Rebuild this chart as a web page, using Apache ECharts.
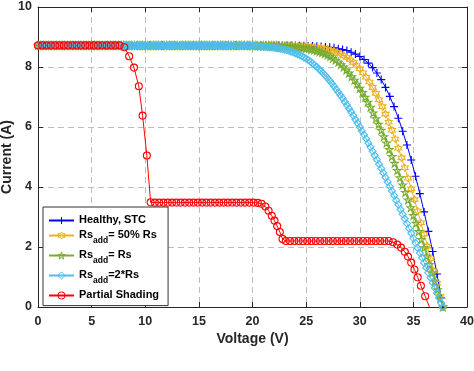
<!DOCTYPE html>
<html><head><meta charset="utf-8">
<script src="https://cdn.jsdelivr.net/npm/echarts@6/dist/echarts.min.js"></script>
<style>html,body{margin:0;padding:0;background:#fff}#c{width:474px;height:371px}</style>
</head><body><div id="c"></div>
<script>
const seriesNames = ['Healthy, STC', 'Rs_add= 50% Rs', 'Rs_add= Rs', 'Rs_add=2*Rs', 'Partial Shading'];
const xAxisTitle = 'Voltage (V)';
const yAxisTitle = 'Current (A)';

// [voltage (V), current (A)]
const healthy = [
[0,8.72],[0.4,8.72],[0.8,8.72],[1.2,8.72],[1.6,8.72],[2,8.72],[2.4,8.72],[2.8,8.72],[3.2,8.72],[3.6,8.72],
[4,8.72],[4.4,8.72],[4.8,8.72],[5.2,8.72],[5.6,8.72],[6,8.72],[6.4,8.72],[6.8,8.72],[7.2,8.72],[7.6,8.72],
[8,8.72],[8.4,8.72],[8.8,8.72],[9.2,8.72],[9.6,8.72],[10,8.72],[10.4,8.72],[10.8,8.72],[11.2,8.72],[11.6,8.72],
[12,8.72],[12.4,8.72],[12.8,8.72],[13.2,8.72],[13.6,8.72],[14,8.72],[14.4,8.72],[14.8,8.72],[15.2,8.72],[15.6,8.72],
[16,8.72],[16.4,8.72],[16.8,8.72],[17.2,8.72],[17.6,8.72],[18,8.72],[18.4,8.72],[18.8,8.72],[19.2,8.72],[19.6,8.72],
[20,8.72],[20.4,8.72],[20.8,8.72],[21.2,8.72],[21.6,8.72],[22,8.72],[22.4,8.72],[22.8,8.72],[23.2,8.72],[23.6,8.72],
[24,8.72],[24.4,8.71],[24.8,8.71],[25.2,8.70],[25.6,8.70],[26,8.69],[26.4,8.68],[26.8,8.67],[27.2,8.66],[27.6,8.64],
[28,8.61],[28.4,8.58],[28.8,8.55],[29.2,8.49],[29.6,8.43],[30,8.35],[30.4,8.25],[30.8,8.13],[31.2,7.98],[31.6,7.80],
[32,7.58],[32.4,7.32],[32.8,7.02],[33.2,6.68],[33.6,6.29],[34,5.86],[34.4,5.40],[34.8,4.90],[35.2,4.36],[35.6,3.78],
[36,3.17],[36.4,2.52],[36.8,1.85],[37.2,1.10],[37.6,0.30],[37.75,0]
];
const rsHalf = [
[0,8.72],[0.3,8.72],[0.6,8.72],[0.9,8.72],[1.2,8.72],[1.5,8.72],[1.8,8.72],[2.1,8.72],[2.4,8.72],[2.7,8.72],
[3,8.72],[3.3,8.72],[3.6,8.72],[3.9,8.72],[4.2,8.72],[4.5,8.72],[4.8,8.72],[5.1,8.72],[5.4,8.72],[5.7,8.72],
[6,8.72],[6.3,8.72],[6.6,8.72],[6.9,8.72],[7.2,8.72],[7.5,8.72],[7.8,8.72],[8.1,8.72],[8.4,8.72],[8.7,8.72],
[9,8.72],[9.3,8.72],[9.6,8.72],[9.9,8.72],[10.2,8.72],[10.5,8.72],[10.8,8.72],[11.1,8.72],[11.4,8.72],[11.7,8.72],
[12,8.72],[12.3,8.72],[12.6,8.72],[12.9,8.72],[13.2,8.72],[13.5,8.72],[13.8,8.72],[14.1,8.72],[14.4,8.72],[14.7,8.72],
[15,8.72],[15.3,8.72],[15.6,8.72],[15.9,8.72],[16.2,8.72],[16.5,8.72],[16.8,8.72],[17.1,8.72],[17.4,8.72],[17.7,8.72],
[18,8.72],[18.3,8.72],[18.6,8.72],[18.9,8.72],[19.2,8.72],[19.5,8.72],[19.8,8.72],[20.1,8.72],[20.4,8.72],[20.7,8.72],
[21,8.72],[21.3,8.72],[21.6,8.72],[21.9,8.72],[22.2,8.72],[22.5,8.71],[22.8,8.71],[23.1,8.71],[23.4,8.71],[23.7,8.70],
[24,8.70],[24.3,8.70],[24.6,8.69],[24.9,8.69],[25.2,8.68],[25.5,8.67],[25.8,8.66],[26.1,8.65],[26.4,8.63],[26.7,8.61],
[27,8.59],[27.3,8.56],[27.6,8.53],[27.9,8.49],[28.2,8.44],[28.5,8.38],[28.8,8.32],[29.1,8.24],[29.4,8.15],[29.7,8.05],
[30,7.94],[30.3,7.81],[30.6,7.66],[30.9,7.50],[31.2,7.32],[31.5,7.12],[31.8,6.91],[32.1,6.68],[32.4,6.43],[32.7,6.16],
[33,5.89],[33.3,5.60],[33.6,5.29],[33.9,4.97],[34.2,4.64],[34.5,4.29],[34.8,3.94],[35.1,3.58],[35.4,3.20],[35.7,2.81],
[36,2.43],[36.3,2.03],[36.6,1.61],[36.9,1.20],[37.2,0.79],[37.5,0.36],[37.75,0]
];
const rsOne = [
[0,8.72],[0.25,8.72],[0.5,8.72],[0.75,8.72],[1,8.72],[1.25,8.72],[1.5,8.72],[1.75,8.72],[2,8.72],[2.25,8.72],
[2.5,8.72],[2.75,8.72],[3,8.72],[3.25,8.72],[3.5,8.72],[3.75,8.72],[4,8.72],[4.25,8.72],[4.5,8.72],[4.75,8.72],
[5,8.72],[5.25,8.72],[5.5,8.72],[5.75,8.72],[6,8.72],[6.25,8.72],[6.5,8.72],[6.75,8.72],[7,8.72],[7.25,8.72],
[7.5,8.72],[7.75,8.72],[8,8.72],[8.25,8.72],[8.5,8.72],[8.75,8.72],[9,8.72],[9.25,8.72],[9.5,8.72],[9.75,8.72],
[10,8.72],[10.25,8.72],[10.5,8.72],[10.75,8.72],[11,8.72],[11.25,8.72],[11.5,8.72],[11.75,8.72],[12,8.72],[12.25,8.72],
[12.5,8.72],[12.75,8.72],[13,8.72],[13.25,8.72],[13.5,8.72],[13.75,8.72],[14,8.72],[14.25,8.72],[14.5,8.72],[14.75,8.72],
[15,8.72],[15.25,8.72],[15.5,8.72],[15.75,8.72],[16,8.72],[16.25,8.72],[16.5,8.72],[16.75,8.72],[17,8.72],[17.25,8.72],
[17.5,8.72],[17.75,8.72],[18,8.72],[18.25,8.72],[18.5,8.72],[18.75,8.72],[19,8.72],[19.25,8.72],[19.5,8.72],[19.75,8.72],
[20,8.72],[20.25,8.71],[20.5,8.71],[20.75,8.71],[21,8.71],[21.25,8.71],[21.5,8.71],[21.75,8.71],[22,8.71],[22.25,8.71],
[22.5,8.70],[22.75,8.70],[23,8.69],[23.25,8.69],[23.5,8.68],[23.75,8.68],[24,8.67],[24.25,8.66],[24.5,8.65],[24.75,8.64],
[25,8.62],[25.25,8.61],[25.5,8.59],[25.75,8.57],[26,8.54],[26.25,8.51],[26.5,8.48],[26.75,8.44],[27,8.40],[27.25,8.35],
[27.5,8.29],[27.75,8.23],[28,8.16],[28.25,8.08],[28.5,8.00],[28.75,7.90],[29,7.80],[29.25,7.68],[29.5,7.56],[29.75,7.43],
[30,7.29],[30.25,7.15],[30.5,6.99],[30.75,6.83],[31,6.66],[31.25,6.47],[31.5,6.28],[31.75,6.09],[32,5.89],[32.25,5.68],
[32.5,5.47],[32.75,5.25],[33,5.02],[33.25,4.79],[33.5,4.55],[33.75,4.31],[34,4.07],[34.25,3.82],[34.5,3.57],[34.75,3.31],
[35,3.05],[35.25,2.79],[35.5,2.52],[35.75,2.25],[36,1.98],[36.25,1.70],[36.5,1.42],[36.75,1.14],[37,0.86],[37.25,0.58],
[37.5,0.29],[37.75,0]
];
const rsTwo = [
[0,8.72],[0.2,8.72],[0.4,8.72],[0.6,8.72],[0.8,8.72],[1,8.72],[1.2,8.72],[1.4,8.72],[1.6,8.72],[1.8,8.72],
[2,8.72],[2.2,8.72],[2.4,8.72],[2.6,8.72],[2.8,8.72],[3,8.72],[3.2,8.72],[3.4,8.72],[3.6,8.72],[3.8,8.72],
[4,8.72],[4.2,8.72],[4.4,8.72],[4.6,8.72],[4.8,8.72],[5,8.72],[5.2,8.72],[5.4,8.72],[5.6,8.72],[5.8,8.72],
[6,8.72],[6.2,8.72],[6.4,8.72],[6.6,8.72],[6.8,8.72],[7,8.72],[7.2,8.72],[7.4,8.72],[7.6,8.72],[7.8,8.72],
[8,8.72],[8.2,8.72],[8.4,8.72],[8.6,8.72],[8.8,8.72],[9,8.72],[9.2,8.72],[9.4,8.72],[9.6,8.72],[9.8,8.72],
[10,8.72],[10.2,8.72],[10.4,8.72],[10.6,8.72],[10.8,8.72],[11,8.72],[11.2,8.72],[11.4,8.72],[11.6,8.72],[11.8,8.72],
[12,8.72],[12.2,8.72],[12.4,8.72],[12.6,8.72],[12.8,8.72],[13,8.72],[13.2,8.72],[13.4,8.72],[13.6,8.72],[13.8,8.72],
[14,8.72],[14.2,8.72],[14.4,8.72],[14.6,8.72],[14.8,8.72],[15,8.72],[15.2,8.72],[15.4,8.72],[15.6,8.72],[15.8,8.72],
[16,8.72],[16.2,8.72],[16.4,8.72],[16.6,8.72],[16.8,8.72],[17,8.72],[17.2,8.72],[17.4,8.72],[17.6,8.72],[17.8,8.72],
[18,8.72],[18.2,8.71],[18.4,8.71],[18.6,8.71],[18.8,8.71],[19,8.71],[19.2,8.71],[19.4,8.71],[19.6,8.71],[19.8,8.71],
[20,8.70],[20.2,8.70],[20.4,8.69],[20.6,8.69],[20.8,8.68],[21,8.68],[21.2,8.67],[21.4,8.67],[21.6,8.66],[21.8,8.65],
[22,8.64],[22.2,8.63],[22.4,8.62],[22.6,8.61],[22.8,8.59],[23,8.58],[23.2,8.56],[23.4,8.54],[23.6,8.51],[23.8,8.49],
[24,8.46],[24.2,8.43],[24.4,8.40],[24.6,8.36],[24.8,8.32],[25,8.28],[25.2,8.23],[25.4,8.18],[25.6,8.12],[25.8,8.06],
[26,8.00],[26.2,7.93],[26.4,7.86],[26.6,7.79],[26.8,7.71],[27,7.63],[27.2,7.54],[27.4,7.45],[27.6,7.36],[27.8,7.26],
[28,7.16],[28.2,7.06],[28.4,6.96],[28.6,6.84],[28.8,6.73],[29,6.62],[29.2,6.50],[29.4,6.38],[29.6,6.25],[29.8,6.13],
[30,6.00],[30.2,5.87],[30.4,5.74],[30.6,5.61],[30.8,5.47],[31,5.33],[31.2,5.19],[31.4,5.05],[31.6,4.91],[31.8,4.76],
[32,4.62],[32.2,4.47],[32.4,4.32],[32.6,4.17],[32.8,4.02],[33,3.87],[33.2,3.72],[33.4,3.56],[33.6,3.41],[33.8,3.25],
[34,3.09],[34.2,2.94],[34.4,2.78],[34.6,2.62],[34.8,2.46],[35,2.29],[35.2,2.13],[35.4,1.97],[35.6,1.80],[35.8,1.64],
[36,1.47],[36.2,1.31],[36.4,1.14],[36.6,0.98],[36.8,0.81],[37,0.63],[37.2,0.47],[37.4,0.30],[37.6,0.13],[37.75,0]
];
const shading = [
[0,8.72],[0.4,8.72],[0.8,8.72],[1.2,8.72],[1.6,8.72],[2,8.72],[2.4,8.72],[2.8,8.72],[3.2,8.72],[3.6,8.72],
[4,8.72],[4.4,8.72],[4.8,8.72],[5.2,8.72],[5.6,8.72],[6,8.72],[6.4,8.72],[6.8,8.72],[7.2,8.72],[7.6,8.72],
[8.05,8.66],[8.5,8.36],[8.95,7.98],[9.4,7.36],[9.75,6.38],[10.15,5.05],[10.5,3.49],
[10.9,3.48],[11.3,3.48],[11.7,3.48],[12.1,3.48],[12.5,3.48],[12.9,3.48],[13.3,3.48],[13.7,3.48],[14.1,3.48],[14.5,3.48],
[14.9,3.48],[15.3,3.48],[15.7,3.48],[16.1,3.48],[16.5,3.48],[16.9,3.48],[17.3,3.48],[17.7,3.48],[18.1,3.48],[18.5,3.48],
[18.9,3.48],[19.3,3.48],[19.7,3.48],[20.1,3.48],[20.5,3.47],
[20.85,3.44],[21.2,3.35],[21.5,3.21],[21.8,3.04],[22.05,2.88],[22.3,2.70],[22.55,2.50],[22.8,2.27],[23.1,2.20],
[23.5,2.20],[23.9,2.20],[24.3,2.20],[24.7,2.20],[25.1,2.20],[25.5,2.20],[25.9,2.20],[26.3,2.20],[26.7,2.20],[27.1,2.20],
[27.5,2.20],[27.9,2.20],[28.3,2.20],[28.7,2.20],[29.1,2.20],[29.5,2.20],[29.9,2.20],[30.3,2.20],[30.7,2.20],[31.1,2.20],
[31.5,2.20],[31.9,2.20],[32.3,2.20],[32.7,2.20],
[33.1,2.16],[33.5,2.08],[33.85,1.98],[34.2,1.84],[34.5,1.68],[34.8,1.48],[35.1,1.25],[35.4,0.99],[35.7,0.71],[36.1,0.36],[36.6,-0.1]
];

const FONT = '"Liberation Sans", Arial, Helvetica, sans-serif';
const AX = '#262626';
const PLUS = 'path://M4.3,0H5.7V4.3H10V5.7H5.7V10H4.3V5.7H0V4.3H4.3Z';
const HEXA = 'path://M50,0L64.4,25L93.3,25L78.9,50L93.3,75L64.4,75L50,100L35.6,75L6.7,75L21.1,50L6.7,25L35.6,25Z';
const PENTA = 'path://M50,0L61.2,34.5L97.6,34.5L68.2,55.9L79.4,90.5L50,69.1L20.6,90.5L31.8,55.9L2.4,34.5L38.8,34.5Z';

function mkSeries(name, data, color, symbol, filled, size) {
  return {
    name: name, type: 'line', data: data, symbol: symbol, symbolSize: size,
    showAllSymbol: true, animation: false, silent: true,
    lineStyle: { color: color, width: 1 },
    itemStyle: filled ? { color: color, borderWidth: 0 } : { color: 'none', borderColor: color, borderWidth: 1.1 },
    emphasis: { disabled: true }
  };
}

function mkAxis(pos, isX, withLabels, name) {
  const a = {
    type: 'value', position: pos, min: 0, max: isX ? 40 : 10, interval: isX ? 5 : 2,
    axisLine: { show: true, onZero: false, lineStyle: { color: AX, width: 1 } },
    axisTick: { show: true, inside: true, length: 5, lineStyle: { color: AX, width: 1 } },
    axisLabel: { show: withLabels, margin: isX ? 8 : 6, fontFamily: FONT, fontWeight: 'bold', fontSize: 12.5, color: AX },
    splitLine: { show: withLabels, showMinLine: false, showMaxLine: false, lineStyle: { color: '#bdbdbd', width: 1, type: [6, 4] } }
  };
  if (name) {
    a.name = name; a.nameLocation = 'middle'; a.nameGap = isX ? 25 : 24; a.nameMoveOverlap = false;
    a.nameTextStyle = { fontFamily: FONT, fontWeight: 'bold', fontSize: 14, color: AX };
  }
  return a;
}

const chart = echarts.init(document.getElementById('c'), null, { renderer: 'canvas' });
chart.setOption({
  backgroundColor: '#ffffff',
  animation: false,
  grid: { left: 38, right: 7, top: 7, bottom: 64, containLabel: false, outerBoundsMode: 'none' },
  xAxis: [mkAxis('bottom', true, true, xAxisTitle), mkAxis('top', true, false, null)],
  yAxis: [mkAxis('left', false, true, yAxisTitle), mkAxis('right', false, false, null)],
  legend: {
    orient: 'vertical', left: 43, top: 207, padding: [7, 9, 4, 5], itemGap: 4,
    itemWidth: 25, itemHeight: 9, backgroundColor: '#ffffff', borderColor: '#333333', borderWidth: 1, borderRadius: 0,
    data: seriesNames, selectedMode: false,
    itemStyle: { borderWidth: 1 },
    textStyle: {
      fontFamily: FONT, fontWeight: 'bold', fontSize: 11, color: '#000000',
      rich: {
        m: { fontFamily: FONT, fontWeight: 'bold', fontSize: 11, lineHeight: 13, verticalAlign: 'top', color: '#000000' },
        s: { fontFamily: FONT, fontWeight: 'bold', fontSize: 8.5, lineHeight: 9, verticalAlign: 'top', padding: [7, 0, 0, 0], color: '#000000' }
      }
    },
    formatter: function (n) {
      const i = n.indexOf('_add');
      if (i < 0) return '{m|' + n + '}';
      return '{m|' + n.slice(0, i) + '}{s|add}{m|' + n.slice(i + 4) + '}';
    }
  },
  series: [
    mkSeries(seriesNames[0], healthy, '#0000ff', PLUS, true, 8),
    mkSeries(seriesNames[1], rsHalf, '#edb120', HEXA, false, 7),
    mkSeries(seriesNames[2], rsOne, '#77ac30', PENTA, false, 7.5),
    mkSeries(seriesNames[3], rsTwo, '#4dbeee', 'diamond', false, 7),
    mkSeries(seriesNames[4], shading, '#ff0000', 'circle', false, 7)
  ]
});
</script>
</body></html>
